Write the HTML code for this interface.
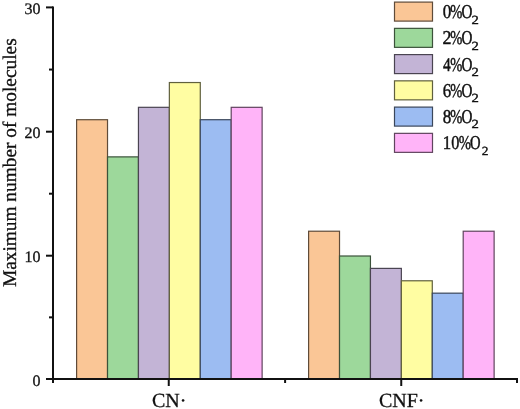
<!DOCTYPE html>
<html><head><meta charset="utf-8"><style>
html,body{margin:0;padding:0;background:#fff;}
svg{display:block;text-rendering:geometricPrecision;}
text{font-family:"Liberation Serif","Times New Roman",serif;fill:#111;stroke:#111;stroke-width:0.3px;}
.tl{font-size:16px;}
.lg{font-size:19.5px;stroke-width:0.45px;}
.sub{font-size:12.4px;stroke-width:0.35px;}
.cat{font-size:20px;}
.yl{font-size:19.35px;}
</style></head><body>
<svg width="520" height="409" viewBox="0 0 520 409">
<rect width="520" height="409" fill="#fff"/>
<rect x="76.60" y="119.71" width="30.92" height="259.29" fill="#FAC696" stroke="#5f4b39" stroke-width="1.2"/><rect x="107.52" y="156.88" width="30.92" height="222.12" fill="#9DD89B" stroke="#3b523a" stroke-width="1.2"/><rect x="138.44" y="107.32" width="30.92" height="271.68" fill="#C3B4D6" stroke="#4a4451" stroke-width="1.2"/><rect x="169.36" y="82.54" width="30.92" height="296.46" fill="#FFFDA2" stroke="#60603d" stroke-width="1.2"/><rect x="200.28" y="119.71" width="30.92" height="259.29" fill="#9CBCF2" stroke="#3b475b" stroke-width="1.2"/><rect x="231.20" y="107.32" width="30.92" height="271.68" fill="#FFB4F8" stroke="#60445e" stroke-width="1.2"/><rect x="308.60" y="231.22" width="30.92" height="147.78" fill="#FAC696" stroke="#5f4b39" stroke-width="1.2"/><rect x="339.52" y="256.00" width="30.92" height="123.00" fill="#9DD89B" stroke="#3b523a" stroke-width="1.2"/><rect x="370.44" y="268.39" width="30.92" height="110.61" fill="#C3B4D6" stroke="#4a4451" stroke-width="1.2"/><rect x="401.36" y="280.78" width="30.92" height="98.22" fill="#FFFDA2" stroke="#60603d" stroke-width="1.2"/><rect x="432.28" y="293.17" width="30.92" height="85.83" fill="#9CBCF2" stroke="#3b475b" stroke-width="1.2"/><rect x="463.20" y="231.22" width="30.92" height="147.78" fill="#FFB4F8" stroke="#60445e" stroke-width="1.2"/>
<g stroke="#111" stroke-width="2" fill="none">
<line x1="53" y1="6.4" x2="53" y2="380"/>
<line x1="52" y1="379" x2="518" y2="379"/>
<line x1="46" y1="379.00" x2="53" y2="379.00"/><line x1="46" y1="255.70" x2="53" y2="255.70"/><line x1="46" y1="131.70" x2="53" y2="131.70"/><line x1="46" y1="7.40" x2="53" y2="7.40"/><line x1="49" y1="317.35" x2="53" y2="317.35"/><line x1="49" y1="193.70" x2="53" y2="193.70"/><line x1="49" y1="69.55" x2="53" y2="69.55"/><line x1="168.75" y1="379" x2="168.75" y2="386"/><line x1="401.25" y1="379" x2="401.25" y2="386"/><line x1="53" y1="379" x2="53" y2="383"/><line x1="285.1" y1="379" x2="285.1" y2="383"/><line x1="517" y1="379" x2="517" y2="383"/>
</g>
<g class="tl"><text x="40.6" y="385.50" text-anchor="end">0</text><text x="40.6" y="262.20" text-anchor="end">10</text><text x="40.6" y="138.20" text-anchor="end">20</text><text x="40.6" y="13.90" text-anchor="end">30</text></g>
<text class="cat" x="169.25" y="406.5" text-anchor="middle">CN·</text>
<text class="cat" x="401.75" y="406.5" text-anchor="middle">CNF·</text>
<text class="yl" transform="translate(16.1,162.7) rotate(-90)" text-anchor="middle">Maximum number of molecules</text>
<rect x="394.5" y="2.10" width="38" height="19" fill="#FAC696" stroke="#5f4b39" stroke-width="1.2"/><text class="lg" y="18.20"><tspan x="442.72" textLength="8.55" lengthAdjust="spacingAndGlyphs">0</tspan><tspan x="450.19" textLength="12.06" lengthAdjust="spacingAndGlyphs">%</tspan><tspan x="461.40" textLength="10.92" lengthAdjust="spacingAndGlyphs">O</tspan><tspan class="sub" x="471.54" y="23.50" textLength="7.34" lengthAdjust="spacingAndGlyphs">2</tspan></text><rect x="394.5" y="28.35" width="38" height="19" fill="#9DD89B" stroke="#3b523a" stroke-width="1.2"/><text class="lg" y="44.40"><tspan x="442.59" textLength="8.99" lengthAdjust="spacingAndGlyphs">2</tspan><tspan x="450.19" textLength="12.06" lengthAdjust="spacingAndGlyphs">%</tspan><tspan x="461.40" textLength="10.92" lengthAdjust="spacingAndGlyphs">O</tspan><tspan class="sub" x="471.54" y="49.70" textLength="7.34" lengthAdjust="spacingAndGlyphs">2</tspan></text><rect x="394.5" y="54.60" width="38" height="19" fill="#C3B4D6" stroke="#4a4451" stroke-width="1.2"/><text class="lg" y="70.60"><tspan x="443.09" textLength="7.72" lengthAdjust="spacingAndGlyphs">4</tspan><tspan x="450.19" textLength="12.06" lengthAdjust="spacingAndGlyphs">%</tspan><tspan x="461.40" textLength="10.92" lengthAdjust="spacingAndGlyphs">O</tspan><tspan class="sub" x="471.54" y="75.90" textLength="7.34" lengthAdjust="spacingAndGlyphs">2</tspan></text><rect x="394.5" y="80.85" width="38" height="19" fill="#FFFDA2" stroke="#60603d" stroke-width="1.2"/><text class="lg" y="96.80"><tspan x="442.64" textLength="8.45" lengthAdjust="spacingAndGlyphs">6</tspan><tspan x="450.19" textLength="12.06" lengthAdjust="spacingAndGlyphs">%</tspan><tspan x="461.40" textLength="10.92" lengthAdjust="spacingAndGlyphs">O</tspan><tspan class="sub" x="471.54" y="102.10" textLength="7.34" lengthAdjust="spacingAndGlyphs">2</tspan></text><rect x="394.5" y="107.10" width="38" height="19" fill="#9CBCF2" stroke="#3b475b" stroke-width="1.2"/><text class="lg" y="123.00"><tspan x="442.72" textLength="8.55" lengthAdjust="spacingAndGlyphs">8</tspan><tspan x="450.19" textLength="12.06" lengthAdjust="spacingAndGlyphs">%</tspan><tspan x="461.40" textLength="10.92" lengthAdjust="spacingAndGlyphs">O</tspan><tspan class="sub" x="471.54" y="128.30" textLength="7.34" lengthAdjust="spacingAndGlyphs">2</tspan></text><rect x="394.5" y="133.35" width="38" height="19" fill="#FFB4F8" stroke="#60445e" stroke-width="1.2"/><text class="lg" y="149.20"><tspan x="442.79" textLength="8.41" lengthAdjust="spacingAndGlyphs">1</tspan><tspan x="451.35" textLength="8.13" lengthAdjust="spacingAndGlyphs">0</tspan><tspan x="458.69" textLength="12.17" lengthAdjust="spacingAndGlyphs">%</tspan><tspan x="470.01" textLength="10.57" lengthAdjust="spacingAndGlyphs">O</tspan><tspan class="sub" x="481.70" y="154.50" textLength="6.71" lengthAdjust="spacingAndGlyphs">2</tspan></text>
</svg>
</body></html>
